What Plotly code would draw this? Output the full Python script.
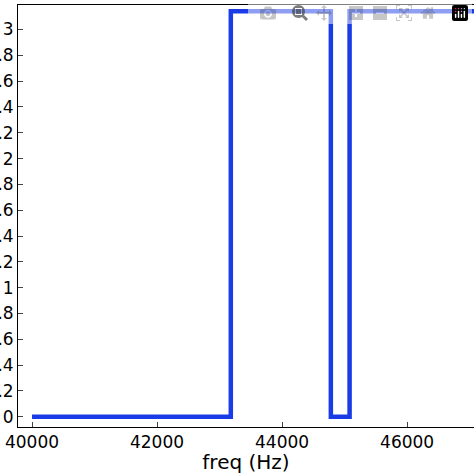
import plotly.graph_objects as go
import math

freq = [40000, 43180, 44780, 45080, 47200]
phase = [0, math.pi, 0, math.pi, math.pi]

fig = go.Figure(go.Scatter(x=freq, y=phase, mode="lines", line=dict(shape="hv", color="#1a3ce6", width=4.5)))
fig.update_layout(
    width=474, height=474, margin=dict(l=18, r=0, t=5, b=47),
    plot_bgcolor="white", paper_bgcolor="white", showlegend=False,
    font=dict(family="DejaVu Sans", size=17, color="black"),
)
fig.update_xaxes(range=[39776, 47070], tickvals=[40000, 42000, 44000, 46000], ticktext=["40000", "42000", "44000", "46000"],
                 showgrid=False, zeroline=False, showline=True, linecolor="black", mirror=True, ticks="inside", ticklen=5,
                 title=dict(text="freq (Hz)", standoff=0), automargin=False)
yv = [round(0.2 * i, 1) for i in range(16)]
fig.update_yaxes(range=[-0.08, 3.19], tickvals=yv, ticktext=[("%g" % v) for v in yv],
                 showgrid=False, zeroline=False, showline=True, linecolor="black", mirror=True, ticks="inside", ticklen=5,
                 automargin=False)
fig.write_html("out.html", post_script="document.body.style.margin='0';document.body.style.overflow='hidden';")
